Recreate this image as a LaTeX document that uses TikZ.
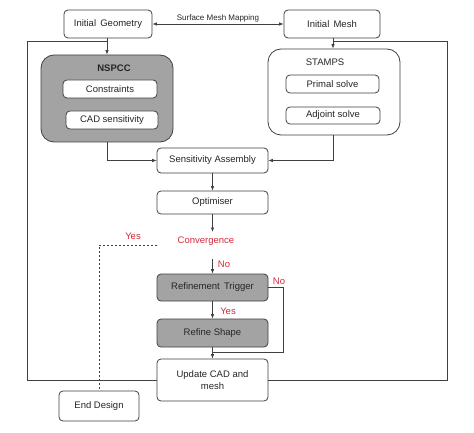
\documentclass[tikz,border=0pt]{standalone}
\usepackage{fontspec}
\setmainfont{Liberation Sans}
\usetikzlibrary{arrows.meta}
\definecolor{ln}{HTML}{404040}
\definecolor{gfill}{HTML}{A3A3A3}
\definecolor{redt}{HTML}{D62A3C}
\tikzset{
  box/.style={draw=ln, line width=0.8pt, rounded corners=4pt, fill=white, align=center, inner sep=0pt, font=\fontsize{9.5}{11.5}\selectfont, text=black!85},
  bigbox/.style={box, rounded corners=13pt},
  gbox/.style={box, fill=gfill},
  con/.style={draw=ln, line width=0.7pt},
  arr/.style={con, -{Latex[length=4.5pt,width=3.5pt]}},
  lab/.style={text=redt, inner sep=0pt, font=\fontsize{9.5}{11}\selectfont},
}
\begin{document}
\begin{tikzpicture}[x=1pt,y=-1pt]
\useasboundingbox (0,0) rectangle (474,433);
\fill[white] (0,0) rectangle (474,433);
% top
\node[box, minimum width=88, minimum height=28] (ig) at (108,24) {Initial\, Geometry};
\node[box, minimum width=96, minimum height=28] (im) at (332,24) {Initial\, Mesh};
% NSPCC
\node[bigbox, fill=gfill, minimum width=132, minimum height=87] (nspcc) at (107,98.5) {};
\node[inner sep=0pt, font=\fontsize{9.5}{11}\bfseries, text=black!85] (nspccl) at (114,68) {NSPCC};
\node[box, minimum width=94, minimum height=18] (cons) at (110,89) {Constraints};
\node[box, minimum width=92, minimum height=18] (cad) at (112,120) {CAD sensitivity};
% STAMPS
\node[bigbox, minimum width=132, minimum height=86] (stamps) at (334,92) {};
\node[inner sep=0pt, font=\fontsize{9.5}{11}\selectfont, text=black!85] (stampsl) at (325,62) {STAMPS};
\node[box, minimum width=93, minimum height=18] (primal) at (332.5,84) {Primal solve};
\node[box, minimum width=94, minimum height=17] (adj) at (333,115.5) {Adjoint solve};
% centre column
\node[box, minimum width=111, minimum height=25] (sa) at (212.5,160.5) {Sensitivity Assembly};
\node[box, minimum width=111, minimum height=23] (opt) at (212.5,202.5) {Optimiser};
\node[lab] (conv) at (206,241) {Convergence};
\node[gbox, minimum width=111, minimum height=27] (rt) at (212.5,287.5) {Refinement\, Trigger};
\node[gbox, minimum width=111, minimum height=28] (rs) at (212.5,333) {Refine Shape};
\node[box, minimum width=111, minimum height=42] (upd) at (212.5,380) {Update CAD and\\mesh};
\node[box, minimum width=80, minimum height=30] (end) at (99,406) {End Design};
% labels
\node[inner sep=0pt, font=\fontsize{8}{9}\selectfont, text=black!85] (sml) at (218,18.5) {Surface Mesh Mapping};
\node[lab] (yes1) at (133,236.5) {Yes};
\node[lab] (no1) at (224,264.5) {No};
\node[lab] (no2) at (279,281.5) {No};
\node[lab] (yes2) at (228,311.5) {Yes};
% coordinates
\coordinate (tl) at (27,41);
\coordinate (tr) at (447,41);
\coordinate (ysplit) at (157,245);
\coordinate (ncorner) at (283,352);
\coordinate (join) at (212.5,352);
% connectors
\draw[con, {Latex[length=4.5pt,width=3.5pt]}-{Latex[length=4.5pt,width=3.5pt]}] (ig.east) -- (im.west);
\draw[arr] (ig.south -| nspcc.north) -- (nspcc.north);
\draw[arr] (im.south -| stamps.north) ++(-1,0) -- ([xshift=-1pt]stamps.north);
\draw[con] (upd.west) -| (tl) -- (tl -| nspcc.north);
\draw[con] (upd.east) -| (tr) -- ([xshift=-1pt]tr -| stamps.north);
\draw[arr] (nspcc.south) |- (sa.west);
\draw[arr] ([xshift=-1pt]stamps.south) |- (sa.east);
\draw[arr] (sa.south) -- (opt.north);
\draw[arr] (opt.south) -- (opt.south |- 0,232);
\draw[arr] (opt.south |- 0,259) -- (rt.north);
\draw[arr] (rt.south) -- (rs.north);
\draw[arr] (rs.south) -- (upd.north);
\draw[con] (rt.east) -| (ncorner) -- (join);
\draw[con, densely dashed, dash pattern=on 2pt off 2pt] (ysplit) -| (end.north);
\end{tikzpicture}
\end{document}
